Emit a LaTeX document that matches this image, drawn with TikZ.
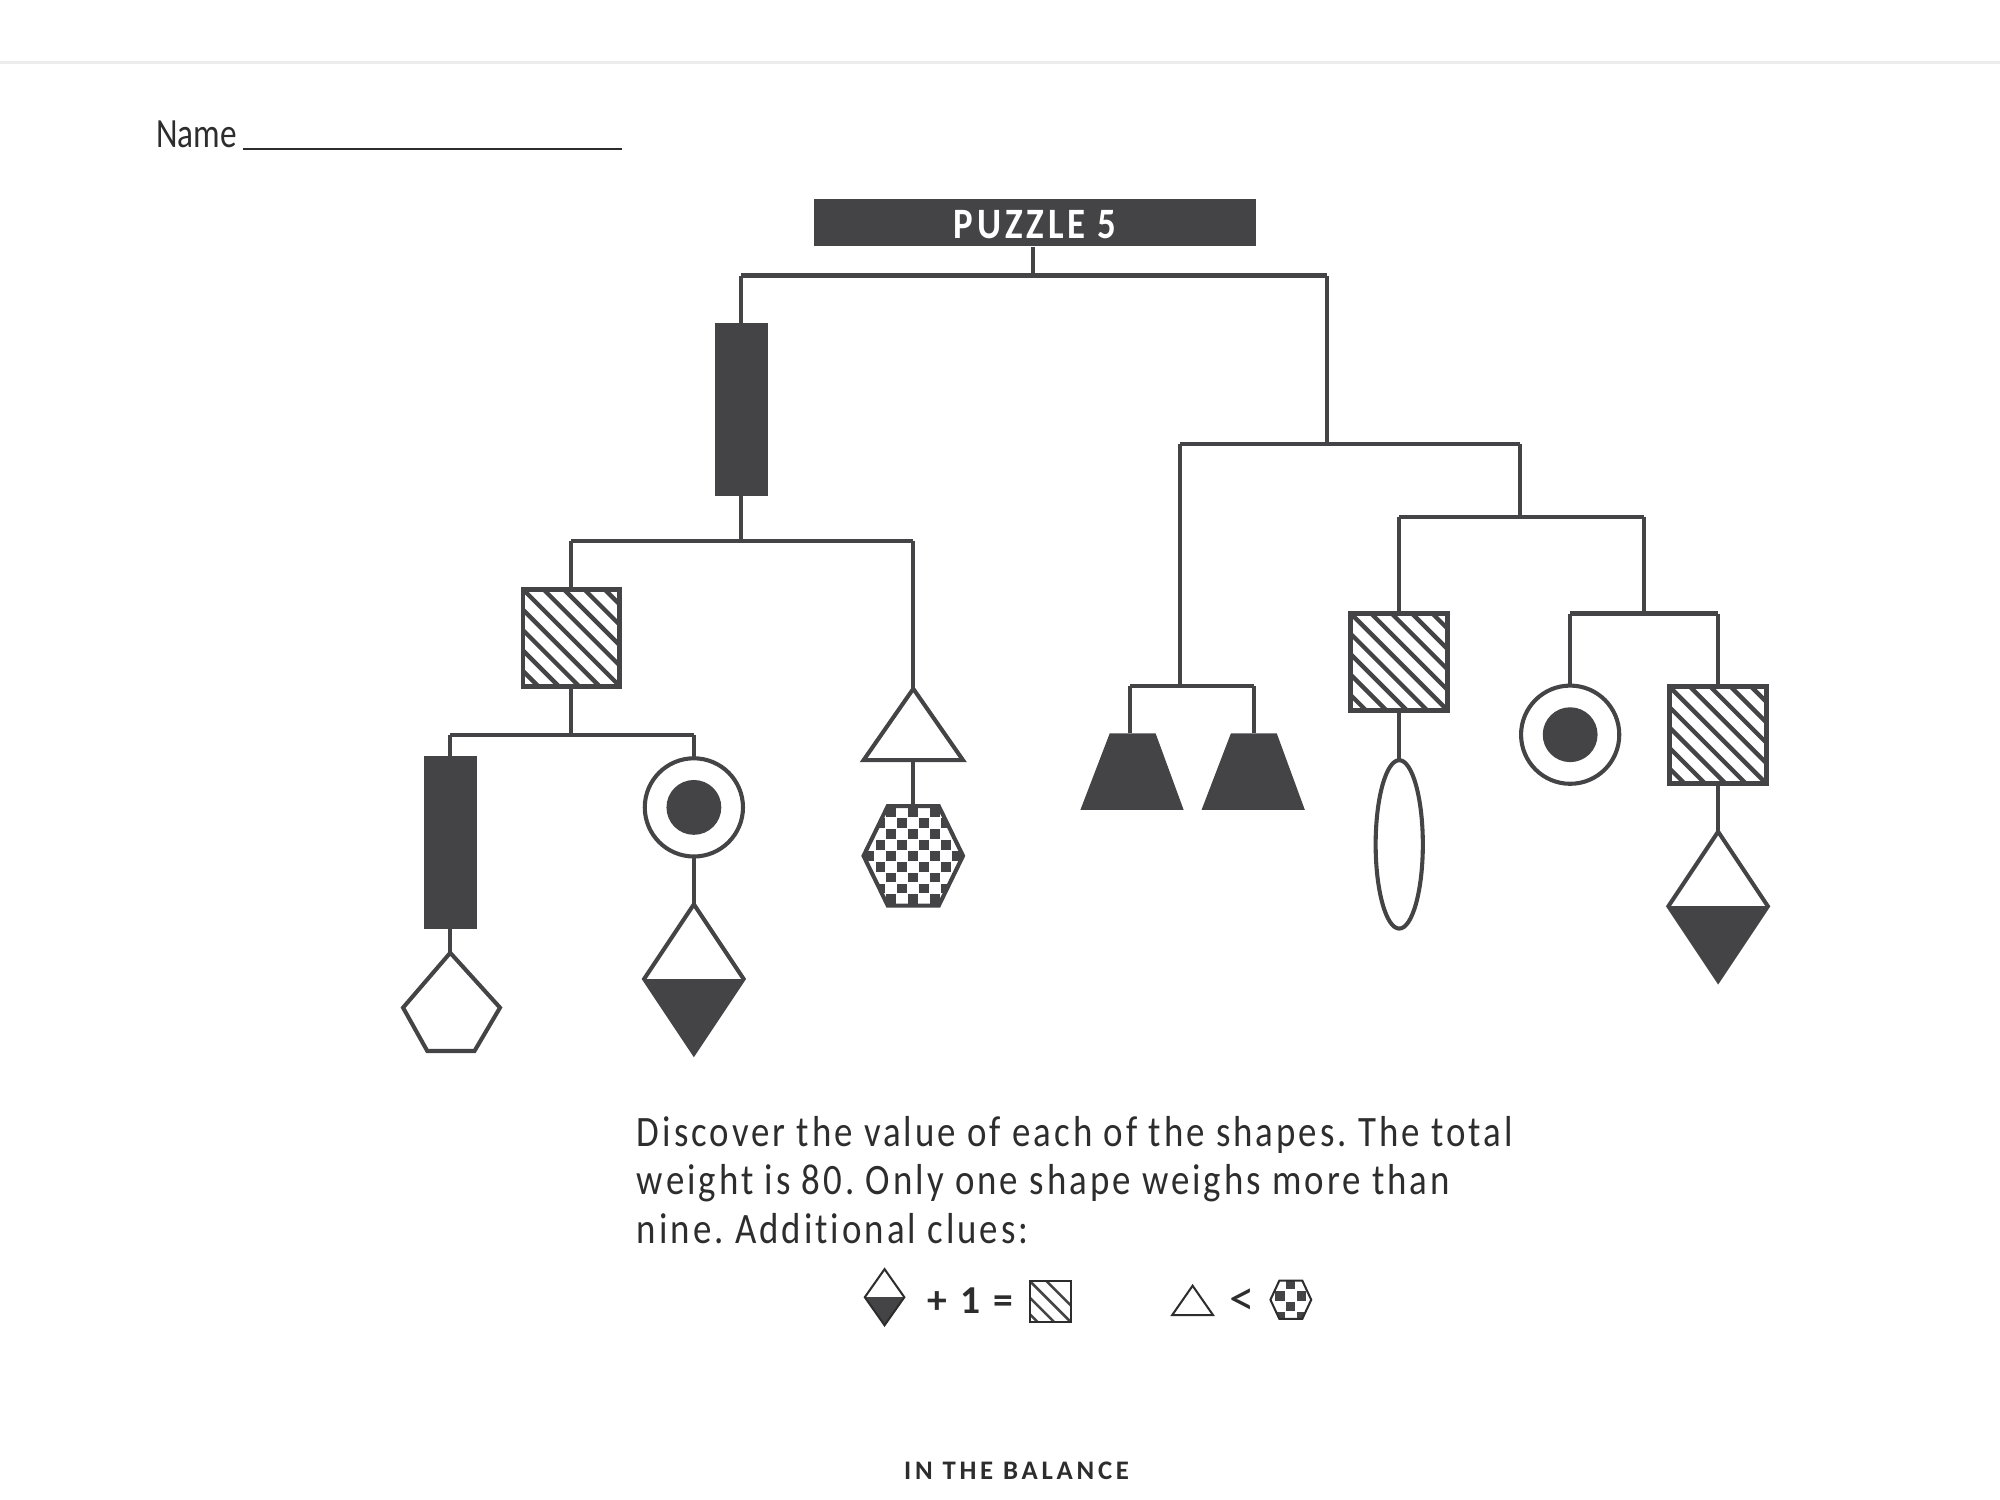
\documentclass[tikz,border=0pt]{standalone}
\usepackage{fontspec}
\setmainfont{Carlito}
\newfontfamily\bodyfont[FakeStretch=0.85, LetterSpace=6.9, Ligatures=CommonOff]{Carlito}
\newfontfamily\namefont[FakeStretch=0.8]{Carlito}
\newfontfamily\titlefont[FakeStretch=0.85, LetterSpace=9, Ligatures=CommonOff]{Carlito}
\newfontfamily\footfont[LetterSpace=14, Ligatures=CommonOff]{Carlito}
\usetikzlibrary{shapes, calc}
\definecolor{inkgray}{RGB}{68, 68, 70}
\definecolor{scanline}{RGB}{236, 236, 236}
\definecolor{printblack}{RGB}{45, 45, 45}
\tikzset{
  rod/.style={draw=inkgray, line width=1.6pt},
  outline/.style={draw=inkgray, line width=1.6pt, fill=white, inner sep=0pt, outer sep=0pt},
  thinoutline/.style={draw=printblack, line width=0.8pt, fill=white, inner sep=0pt, outer sep=0pt},
  weightbar/.style={fill=inkgray, inner sep=0pt, outer sep=0pt, minimum width=20.75pt, minimum height=67.5pt},
  hatched/.style 2 args={path picture={
    \foreach \d in {#1} {
      \draw[draw=inkgray, line width=#2] ($(path picture bounding box.center)+(\d,0)+(-120,-120)$) -- ++(240,240);
    }}},
  halfdark/.style={path picture={
    \fill[inkgray] (path picture bounding box.west) rectangle (path picture bounding box.south east);}},
  dropshape/.style={outline, shape=diamond, minimum width=39pt, minimum height=58.5pt, halfdark},
  ringshape/.style={outline, circle, minimum size=38.5pt},
  ringdot/.style={circle, fill=inkgray, inner sep=0pt, minimum size=21.5pt},
  squareshape/.style={outline, line width=1.9pt, rectangle, minimum size=38pt, hatched={-64,-48,-32,-16,0,16,32,48,64}{1.7pt}},
  cluetext/.style={anchor=base, font=\fontsize{15.5}{18}\selectfont\bfseries, text=printblack, inner sep=0pt}
}
\begin{document}
\begin{tikzpicture}[x=0.5pt, y=-0.5pt]
  \useasboundingbox (0,0) rectangle (1568,1176);
  \draw[scanline, line width=0.8pt] (0,49) -- (1568,49);

  % Name line
  \node[anchor=base west, inner sep=0pt, text=printblack, font=\fontsize{16.3}{19}\namefont] (name) at (122,116) {Name};
  \coordinate (namestart) at (190.5,117);
  \coordinate (nameend) at (488,117);
  \draw[printblack, line width=0.6pt] (namestart) -- (nameend);

  % Title bar
  \node[fill=inkgray, inner sep=0pt, minimum width=173.5pt, minimum height=18.5pt, text height=12.5pt, text depth=0pt, text=white, font=\fontsize{17}{18}\titlefont\bfseries] (title) at (811.5,174.5) {PUZZLE 5};

  % Top beam
  \coordinate (topfork) at (810,216);
  \coordinate (topleft) at (581,216);
  \coordinate (topright) at (1040,216);
  \draw[rod] (title.south -| topfork) -- (topfork);
  \draw[rod] (topleft) -- (topright);

  % Left arm
  \node[weightbar] (leftbar) at (581,321) {};
  \draw[rod] (topleft) -- (leftbar.north);
  \coordinate (leftfork) at (581,424);
  \coordinate (lefta) at (448,424);
  \coordinate (leftb) at (716,424);
  \draw[rod] (leftbar.south) -- (leftfork);
  \draw[rod] (lefta) -- (leftb);

  \node[squareshape] (leftsq) at (448,500) {};
  \draw[rod] (lefta) -- (leftsq.north);
  \coordinate (lowfork) at (448,576);
  \coordinate (lowa) at (353,576);
  \coordinate (lowb) at (544,576);
  \draw[rod] (leftsq.south) -- (lowfork);
  \draw[rod] (lowa) -- (lowb);

  \node[weightbar] (lowbar) at (353,660.5) {};
  \draw[rod] (lowa) -- (lowbar.north);
  \coordinate (pentop) at (353,747);
  \draw[rod] (lowbar.south) -- (pentop);
  \draw[rod, fill=white, line join=miter] (pentop) -- (392,790) -- (372,824) -- (335,824) -- (316,790) -- cycle;

  \node[ringshape] (lowring) at (544,633) {};
  \node[ringdot] (lowdot) at (lowring) {};
  \draw[rod] (lowb) -- (lowring.north);
  \node[dropshape] (lowdrop) at (544,767.5) {};
  \draw[rod] (lowring.south) -- (lowdrop.north);

  % Triangle and hexagon
  \coordinate (tritop) at (716,540);
  \coordinate (tribase) at (716,596);
  \coordinate (hextop) at (716,632);
  \draw[rod] (leftb) -- (tritop);
  \draw[rod, fill=white] (tritop) -- (755,596) -- (677,596) -- cycle;
  \begin{scope}
    \clip (696,632) -- (736,632) -- (755,671) -- (736,710) -- (696,710) -- (677,671) -- cycle;
    \foreach \r in {-5,...,5} {
      \foreach \c in {-5,...,5} {
        \pgfmathtruncatemacro{\cellodd}{mod(abs(\r+\c),2)}
        \ifnum\cellodd=0
          \fill[inkgray] ({716+\c*8.6-3.8},{671+\r*8.5-3.8}) rectangle ++(7.6,7.6);
        \fi
      }
    }
  \end{scope}
  \draw[rod] (696,632) -- (736,632) -- (755,671) -- (736,710) -- (696,710) -- (677,671) -- cycle;
  \draw[rod] (tribase) -- (hextop);

  % Right arm
  \coordinate (rightfork) at (1040,348);
  \coordinate (righta) at (925,348);
  \coordinate (rightb) at (1192,348);
  \draw[rod] (topright) -- (rightfork);
  \draw[rod] (righta) -- (rightb);

  % Two trapezia
  \coordinate (trapfork) at (925,538);
  \coordinate (trapa) at (886,538);
  \coordinate (trapb) at (983,538);
  \coordinate (trapatop) at (886,575);
  \coordinate (trapbtop) at (983,575);
  \draw[rod] (righta) -- (trapfork);
  \draw[rod] (trapa) -- (trapb);
  \draw[rod] (trapa) -- (trapatop);
  \draw[rod] (trapb) -- (trapbtop);
  \fill[inkgray] (870,575) -- (906,575) -- (928,635) -- (847,635) -- cycle;
  \fill[inkgray] (965,575) -- (1001,575) -- (1023,635) -- (942,635) -- cycle;

  % Square and ellipse
  \coordinate (midfork) at (1192,405);
  \coordinate (mida) at (1097,405);
  \coordinate (midb) at (1289,405);
  \draw[rod] (rightb) -- (midfork);
  \draw[rod] (mida) -- (midb);
  \node[squareshape] (midsq) at (1097,519) {};
  \node[outline, ellipse, minimum width=18.5pt, minimum height=66pt] (midoval) at (1097,662) {};
  \draw[rod] (mida) -- (midsq.north);
  \draw[rod] (midsq.south) -- (midoval.north);

  % Ring and square with drop
  \coordinate (endfork) at (1289,481);
  \coordinate (enda) at (1231,481);
  \coordinate (endb) at (1347,481);
  \draw[rod] (midb) -- (endfork);
  \draw[rod] (enda) -- (endb);
  \node[ringshape] (endring) at (1231,576) {};
  \node[ringdot] (enddot) at (endring) {};
  \node[squareshape] (endsq) at (1347,576.5) {};
  \node[dropshape] (enddrop) at (1347,710.5) {};
  \draw[rod] (enda) -- (endring.north);
  \draw[rod] (endb) -- (endsq.north);
  \draw[rod] (endsq.south) -- (enddrop.north);

  % Puzzle text
  \node[anchor=north west, inner sep=0pt, align=left, text=printblack, font=\fontsize{17}{19.1}\bodyfont\frenchspacing] (puzzletext) at (499,874.5) {Discover the value of each of the shapes. The total\\ weight is 80. Only one shape weighs more than\\ nine. Additional clues:};

  % Clues
  \node[thinoutline, shape=diamond, minimum width=15.5pt, minimum height=22pt, halfdark] (cluedrop) at (693.5,1017) {};
  \node[cluetext] (clueplus) at (735,1030) {+};
  \node[cluetext] (clueone) at (761,1030) {1};
  \node[cluetext] (clueeq) at (787,1030) {=};
  \node[thinoutline, rectangle, minimum size=16pt, hatched={-26,-13,0,13}{1pt}] (cluesq) at (823.5,1020.5) {};
  \draw[draw=printblack, line width=0.8pt] (935,1008) -- (951,1031) -- (919,1031) -- cycle;
  \node[cluetext, font=\fontsize{20}{22}\selectfont] (clueless) at (974,1031) {<};
  \begin{scope}
    \clip (1003,1004) -- (1021,1004) -- (1028,1019) -- (1021,1034) -- (1003,1034) -- (996,1019) -- cycle;
    \foreach \p/\q in {0/-12, -8.5/-3, 8.5/-3, 0/5, -8.5/13, 8.5/13} {
      \fill[inkgray] ({1012+\p-3.6},{1019+\q-3.6}) rectangle ++(7.2,7.2);
    }
  \end{scope}
  \draw[draw=printblack, line width=0.8pt] (1003,1004) -- (1021,1004) -- (1028,1019) -- (1021,1034) -- (1003,1034) -- (996,1019) -- cycle;

  % Footer
  \node[inner sep=0pt, text=printblack, font=\fontsize{10.5}{12}\footfont\bfseries] (footer) at (797,1153) {IN THE BALANCE};
\end{tikzpicture}
\end{document}
